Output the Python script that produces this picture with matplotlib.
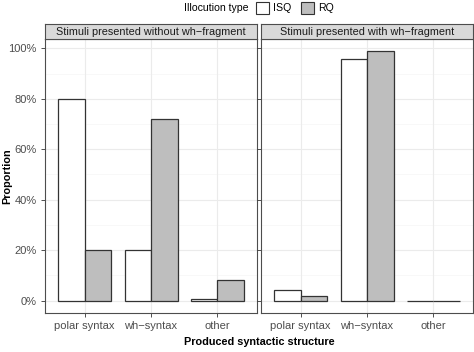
import matplotlib.pyplot as plt
import matplotlib.patches as mpatches
import numpy as np

plt.rcParams['font.family'] = ['Liberation Sans', 'DejaVu Sans']

categories = ['polar syntax', 'wh\u2212syntax', 'other']
panels = ['Stimuli presented without wh\u2212fragment', 'Stimuli presented with wh\u2212fragment']
isq_without = [0.798, 0.20, 0.005]
rq_without = [0.20, 0.72, 0.08]
isq_with = [0.043, 0.96, 0.0]
rq_with = [0.02, 0.988, 0.0]
yticks = [0, 0.2, 0.4, 0.6, 0.8, 1.0]
yticklabels = ['0%', '20%', '40%', '60%', '80%', '100%']

W, H = 474, 352
fig = plt.figure(figsize=(W / 100, H / 100), dpi=100)
fig.patch.set_facecolor('w')

def fr(x0, y0, x1, y1):
    # pixel box (top-left origin) -> figure fraction rect
    return [x0 / W, (H - y1) / H, (x1 - x0) / W, (y1 - y0) / H]

edge = '#333333'
rq_col = '#BEBEBE'
grid_major = '#EBEBEB'
grid_minor = '#F5F5F5'
ymax = 0.988
pad = ymax * 0.05

boxes = [(45, 257), (261, 473)]
data = [(isq_without, rq_without), (isq_with, rq_with)]
x = np.arange(1, len(categories) + 1)

for i, ((x0, x1), (isq, rq)) in enumerate(zip(boxes, data)):
    ax = fig.add_axes(fr(x0, 39, x1, 313))
    ax.set_xlim(0.4, 3.6)
    ax.set_ylim(-pad, ymax + pad)
    for m in [0.1, 0.3, 0.5, 0.7, 0.9]:
        ax.axhline(m, color=grid_minor, lw=0.5, zorder=0)
    for t in yticks:
        ax.axhline(t, color=grid_major, lw=0.8, zorder=0)
    for xc in x:
        ax.axvline(xc, color=grid_major, lw=0.8, zorder=0)
    ax.bar(x - 0.2, isq, width=0.4, color='white', edgecolor=edge, lw=0.9, zorder=2)
    ax.bar(x + 0.2, rq, width=0.4, color=rq_col, edgecolor=edge, lw=0.9, zorder=2)
    ax.set_xticks(x)
    ax.set_xticklabels(categories, fontsize=8, color='#4D4D4D')
    ax.set_yticks(yticks)
    if i == 0:
        ax.set_yticklabels(yticklabels, fontsize=8, color='#4D4D4D')
    else:
        ax.set_yticklabels([])
        ax.tick_params(axis='y', length=0)
    ax.tick_params(which='major', color='#333333', length=3, width=0.6, pad=3)
    for s in ax.spines.values():
        s.set_color('#4D4D4D')
        s.set_linewidth(0.8)
    # strip
    sax = fig.add_axes(fr(x0, 24, x1, 39))
    sax.set_facecolor('#D9D9D9')
    sax.set_xticks([])
    sax.set_yticks([])
    for s in sax.spines.values():
        s.set_color('#4D4D4D')
        s.set_linewidth(0.8)
    sax.text(0.5, 0.45, panels[i], ha='center', va='center', fontsize=7.8,
             color='#1A1A1A', transform=sax.transAxes)

fig.text(7 / W, 1 - 176 / H, 'Proportion', rotation=90, ha='center', va='center',
         fontsize=7.8, fontweight='bold')
fig.text(259 / W, 1 - 342 / H, 'Produced syntactic structure', ha='center', va='center',
         fontsize=7.8, fontweight='bold')

# legend
fig.text(249 / W, 1 - 8 / H, 'Illocution type', ha='right', va='center', fontsize=7.6)
fig.patches.append(mpatches.Rectangle((256 / W, 1 - 14 / H), 13 / W, 12 / H,
                                      facecolor='white', edgecolor=edge, lw=0.8,
                                      transform=fig.transFigure))
fig.text(273 / W, 1 - 8 / H, 'ISQ', ha='left', va='center', fontsize=7.6)
fig.patches.append(mpatches.Rectangle((301 / W, 1 - 14 / H), 13 / W, 12 / H,
                                      facecolor=rq_col, edgecolor=edge, lw=0.8,
                                      transform=fig.transFigure))
fig.text(318 / W, 1 - 8 / H, 'RQ', ha='left', va='center', fontsize=7.6)

fig.savefig('out.png', dpi=100, facecolor='w')
